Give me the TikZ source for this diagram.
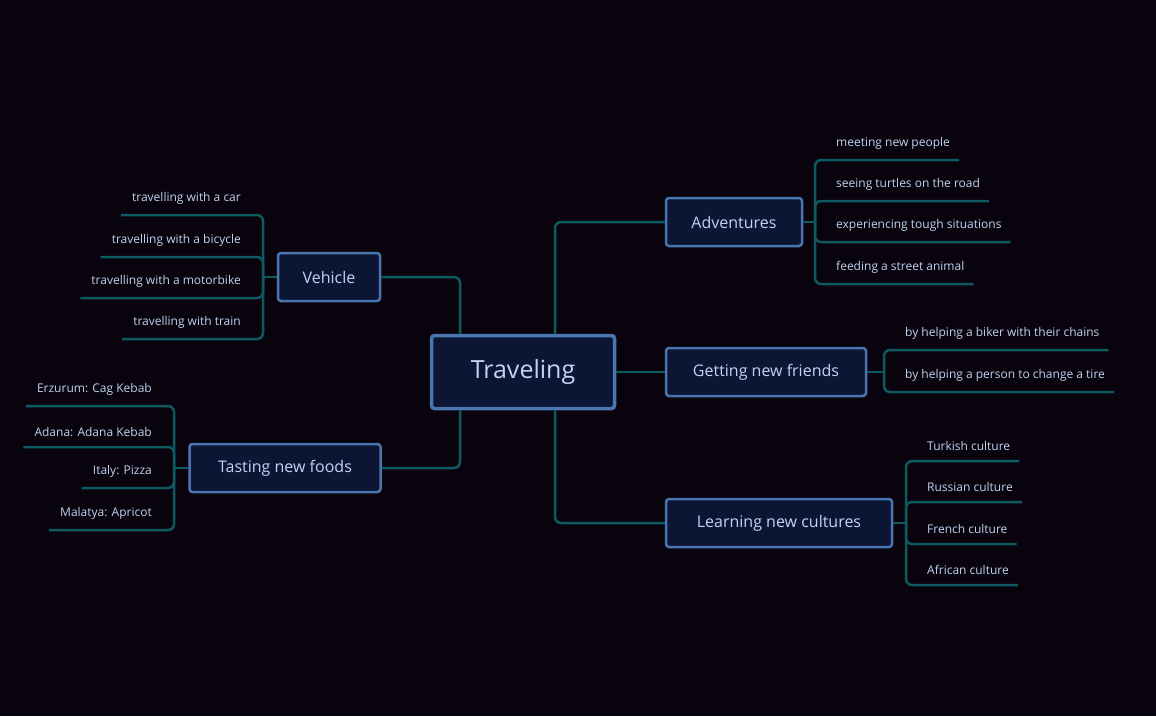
\documentclass[tikz,border=0pt]{standalone}
\usepackage{fontspec}
\setmainfont{Open Sans}
\usetikzlibrary{calc}
\definecolor{bgdark}{HTML}{08030D}
\definecolor{linkteal}{HTML}{0D5A60}
\definecolor{boxfill}{HTML}{0D1535}
\definecolor{boxline}{HTML}{4A76B0}
\definecolor{txtblue}{HTML}{C0D4F0}
\tikzset{
  topic/.style={draw=boxline,fill=boxfill,line width=2.5pt,rounded corners=3pt,text=txtblue,inner sep=0pt},
  leaf/.style={text=txtblue,font=\fontsize{12}{14}\selectfont,inner sep=3pt},
  link/.style={draw=linkteal,line width=2.5pt,rounded corners=6pt}
}
\begin{document}
\begin{tikzpicture}[x=1pt,y=-1pt]
  \fill[bgdark] (0,0) rectangle (1156,716);
  \useasboundingbox (0,0) rectangle (1156,716);
  % main topics
  \node[topic,minimum width=183,minimum height=73,line width=3.5pt,font=\fontsize{25}{28}\selectfont] (trav) at (523,372) {Traveling};
  \node[topic,minimum width=136,minimum height=48,font=\fontsize{16}{18}\selectfont] (adv) at (734,222) {Adventures};
  \node[topic,minimum width=200,minimum height=48,font=\fontsize{16}{18}\selectfont] (frnd) at (766,372) {Getting new friends};
  \node[topic,minimum width=226,minimum height=48,font=\fontsize{16}{18}\selectfont] (cult) at (779,523) {Learning new cultures};
  \node[topic,minimum width=102,minimum height=48,font=\fontsize{16}{18}\selectfont] (veh) at (329,277) {Vehicle};
  \node[topic,minimum width=191,minimum height=48,font=\fontsize{16}{18}\selectfont] (food) at (285,468) {Tasting new foods};
  \draw[link] ($(trav.north)+(32,0)$) |- (adv.west);
  \draw[link] (trav.east) -- (frnd.west);
  \draw[link] ($(trav.south)+(32,0)$) |- (cult.west);
  \draw[link] ($(trav.north)+(-63,0)$) |- (veh.east);
  \draw[link] ($(trav.south)+(-63,0)$) |- (food.east);
  % brackets
  \coordinate (advb) at (815,222);
  \coordinate (frndb) at (884,372);
  \coordinate (cultb) at (906,523);
  \coordinate (vehb) at (263,277);
  \coordinate (foodb) at (174,468);
  \draw[link] (adv.east) -- (advb);
  \draw[link] (frnd.east) -- (frndb);
  \draw[link] (cult.east) -- (cultb);
  \draw[link] (veh.west) -- (vehb);
  \draw[link] (food.west) -- (foodb);
  % right leaves
  \foreach \tp/\x/\lst in {adv/836/{160/meeting new people,201/seeing turtles on the road,242/experiencing tough situations,284/feeding a street animal},
      frnd/905/{350/by helping a biker with their chains,392/by helping a person to change a tire},
      cult/927/{461/Turkish culture,502/Russian culture,544/French culture,585/African culture}}{
    \foreach \y/\t [count=\i] in \lst{
      \node[leaf,anchor=south west] (\tp\i) at (\x-3,\y-7) {\t};
      \draw[link] (\tp b) |- ($(\tp\i.south east)+(6,7)$);
    }
  }
  % left leaves
  \foreach \tp/\x/\lst in {veh/241/{215/travelling with a car,257/travelling with a bicycle,298/travelling with a motorbike,339/travelling with train},
      food/152/{406/Erzurum: Cag Kebab,447/Adana: Adana Kebab,488/Italy: Pizza,530/Malatya: Apricot}}{
    \foreach \y/\t [count=\i] in \lst{
      \node[leaf,anchor=south east] (\tp\i) at (\x+3,\y-7) {\t};
      \draw[link] (\tp b) |- ($(\tp\i.south west)+(-8,7)$);
    }
  }
\end{tikzpicture}
\end{document}
